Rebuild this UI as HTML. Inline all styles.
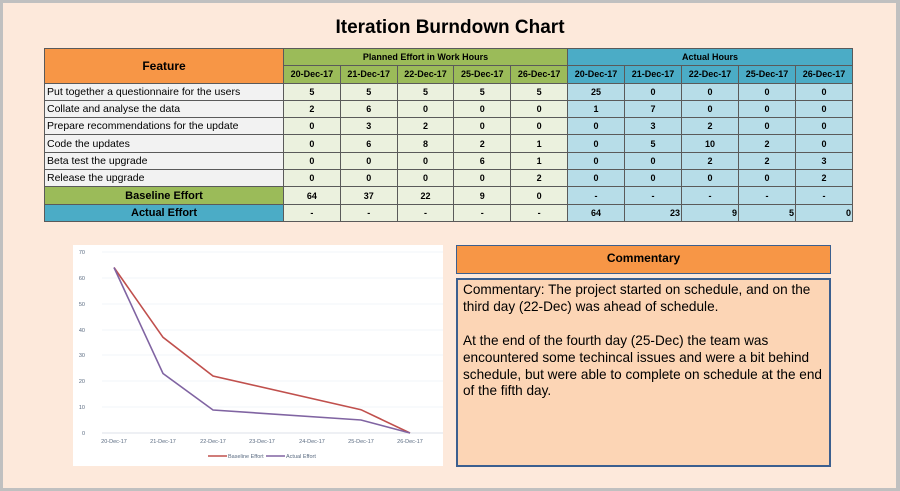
<!DOCTYPE html>
<html><head><meta charset="utf-8"><style>
*{margin:0;padding:0;box-sizing:border-box}
body{width:900px;height:491px;background:#c0c0c0;position:relative;overflow:hidden;font-family:"Liberation Sans",Arial,sans-serif}
#pg{position:absolute;left:3px;top:3px;width:893px;height:485px;background:#fde9db}
h1{position:absolute;left:0;width:900px;top:17px;text-align:center;font-size:19px;font-weight:bold;color:#000}
table{position:absolute;left:44px;top:48px;border-collapse:collapse;table-layout:fixed;width:808px}
td{border:1px solid #5a5a5a;font-size:9px;font-weight:bold;text-align:center;height:17.3px;padding:0;overflow:hidden;white-space:nowrap}
td.f{text-align:left;font-weight:normal;font-size:10.5px;padding-left:2px;background:#f2f2f2}
.o{background:#f79646;font-size:12px}
.g{background:#9bbb59}
.b{background:#4bacc6}
.pg{background:#ebf1de}
.ac{background:#b7dde8}
.r{text-align:right!important;padding-right:1px!important}
#chart{position:absolute;left:73px;top:245px;width:370px;height:221px;background:#fff}
#ch{position:absolute;left:456px;top:245px;width:375px;height:29px;background:#f79646;border:1px solid #3b5f8f;text-align:center;font-weight:bold;font-size:12px;padding-top:5px}
#cb{position:absolute;left:456px;top:278px;width:375px;height:189px;background:#fcd5b5;border:2px solid #3b5f8f;font-size:13.6px;line-height:16.9px;padding:2px 5px}
</style></head><body><div id="pg"></div>
<h1>Iteration Burndown Chart</h1>
<table>
<colgroup><col style="width:239px"><col span="5" style="width:56.8px"><col span="5" style="width:57px"></colgroup>
<tr><td rowspan="2" class="o">Feature</td><td colspan="5" class="g">Planned Effort in Work Hours</td><td colspan="5" class="b">Actual Hours</td></tr>
<tr><td class="g">20-Dec-17</td><td class="g">21-Dec-17</td><td class="g">22-Dec-17</td><td class="g">25-Dec-17</td><td class="g">26-Dec-17</td><td class="b">20-Dec-17</td><td class="b">21-Dec-17</td><td class="b">22-Dec-17</td><td class="b">25-Dec-17</td><td class="b">26-Dec-17</td></tr>
<tr><td class="f">Put together a questionnaire for the users</td><td class="pg">5</td><td class="pg">5</td><td class="pg">5</td><td class="pg">5</td><td class="pg">5</td><td class="ac">25</td><td class="ac">0</td><td class="ac">0</td><td class="ac">0</td><td class="ac">0</td></tr>
<tr><td class="f">Collate and analyse the data</td><td class="pg">2</td><td class="pg">6</td><td class="pg">0</td><td class="pg">0</td><td class="pg">0</td><td class="ac">1</td><td class="ac">7</td><td class="ac">0</td><td class="ac">0</td><td class="ac">0</td></tr>
<tr><td class="f">Prepare recommendations for the update</td><td class="pg">0</td><td class="pg">3</td><td class="pg">2</td><td class="pg">0</td><td class="pg">0</td><td class="ac">0</td><td class="ac">3</td><td class="ac">2</td><td class="ac">0</td><td class="ac">0</td></tr>
<tr><td class="f">Code the updates</td><td class="pg">0</td><td class="pg">6</td><td class="pg">8</td><td class="pg">2</td><td class="pg">1</td><td class="ac">0</td><td class="ac">5</td><td class="ac">10</td><td class="ac">2</td><td class="ac">0</td></tr>
<tr><td class="f">Beta test the upgrade</td><td class="pg">0</td><td class="pg">0</td><td class="pg">0</td><td class="pg">6</td><td class="pg">1</td><td class="ac">0</td><td class="ac">0</td><td class="ac">2</td><td class="ac">2</td><td class="ac">3</td></tr>
<tr><td class="f">Release the upgrade</td><td class="pg">0</td><td class="pg">0</td><td class="pg">0</td><td class="pg">0</td><td class="pg">2</td><td class="ac">0</td><td class="ac">0</td><td class="ac">0</td><td class="ac">0</td><td class="ac">2</td></tr>
<tr><td class="g" style="font-size:11px">Baseline Effort</td><td class="pg">64</td><td class="pg">37</td><td class="pg">22</td><td class="pg">9</td><td class="pg">0</td><td class="ac">-</td><td class="ac">-</td><td class="ac">-</td><td class="ac">-</td><td class="ac">-</td></tr>
<tr><td class="b" style="font-size:11px">Actual Effort</td><td class="pg">-</td><td class="pg">-</td><td class="pg">-</td><td class="pg">-</td><td class="pg">-</td><td class="ac">64</td><td class="ac r">23</td><td class="ac r">9</td><td class="ac r">5</td><td class="ac r">0</td></tr>
</table>
<div id="chart"><svg width="370" height="221" font-family="Liberation Sans,sans-serif" font-size="5.5" fill="#596a80">
<g stroke="#eef2f7" stroke-width="0.8">
<line x1="29" x2="376" y1="7" y2="7"/><line x1="29" x2="376" y1="33" y2="33"/><line x1="29" x2="376" y1="59" y2="59"/><line x1="29" x2="376" y1="85" y2="85"/><line x1="29" x2="376" y1="110" y2="110"/><line x1="29" x2="376" y1="136" y2="136"/><line x1="29" x2="376" y1="162" y2="162"/></g>
<line x1="29" x2="376" y1="188" y2="188" stroke="#d0d8e0" stroke-width="0.8"/>
<g text-anchor="end"><text x="12" y="9">70</text><text x="12" y="35">60</text><text x="12" y="61">50</text><text x="12" y="87">40</text><text x="12" y="112">30</text><text x="12" y="138">20</text><text x="12" y="164">10</text><text x="12" y="190">0</text></g>
<g text-anchor="middle"><text x="41" y="198">20-Dec-17</text><text x="90" y="198">21-Dec-17</text><text x="140" y="198">22-Dec-17</text><text x="189" y="198">23-Dec-17</text><text x="239" y="198">24-Dec-17</text><text x="288" y="198">25-Dec-17</text><text x="337" y="198">26-Dec-17</text></g>
<polyline fill="none" stroke="#c0504d" stroke-width="1.6" points="41,22.5 90,92.3 140,131 288,164.7 337,188"/>
<polyline fill="none" stroke="#8064a2" stroke-width="1.6" points="41,22.5 90,128.5 140,165 288,175 337,188"/>
<line x1="135" x2="154" y1="211" y2="211" stroke="#c0504d" stroke-width="1.6"/><text x="155" y="213">Baseline Effort</text>
<line x1="193" x2="212" y1="211" y2="211" stroke="#8064a2" stroke-width="1.6"/><text x="213" y="213">Actual Effort</text>
</svg></div>
<div id="ch">Commentary</div>
<div id="cb">Commentary: The project started on schedule, and on the third day (22-Dec) was ahead of schedule.<br><br>At the end of the fourth day (25-Dec) the team was encountered some techincal issues and were a bit behind schedule, but were able to complete on schedule at the end of the fifth day.</div>
</body></html>
